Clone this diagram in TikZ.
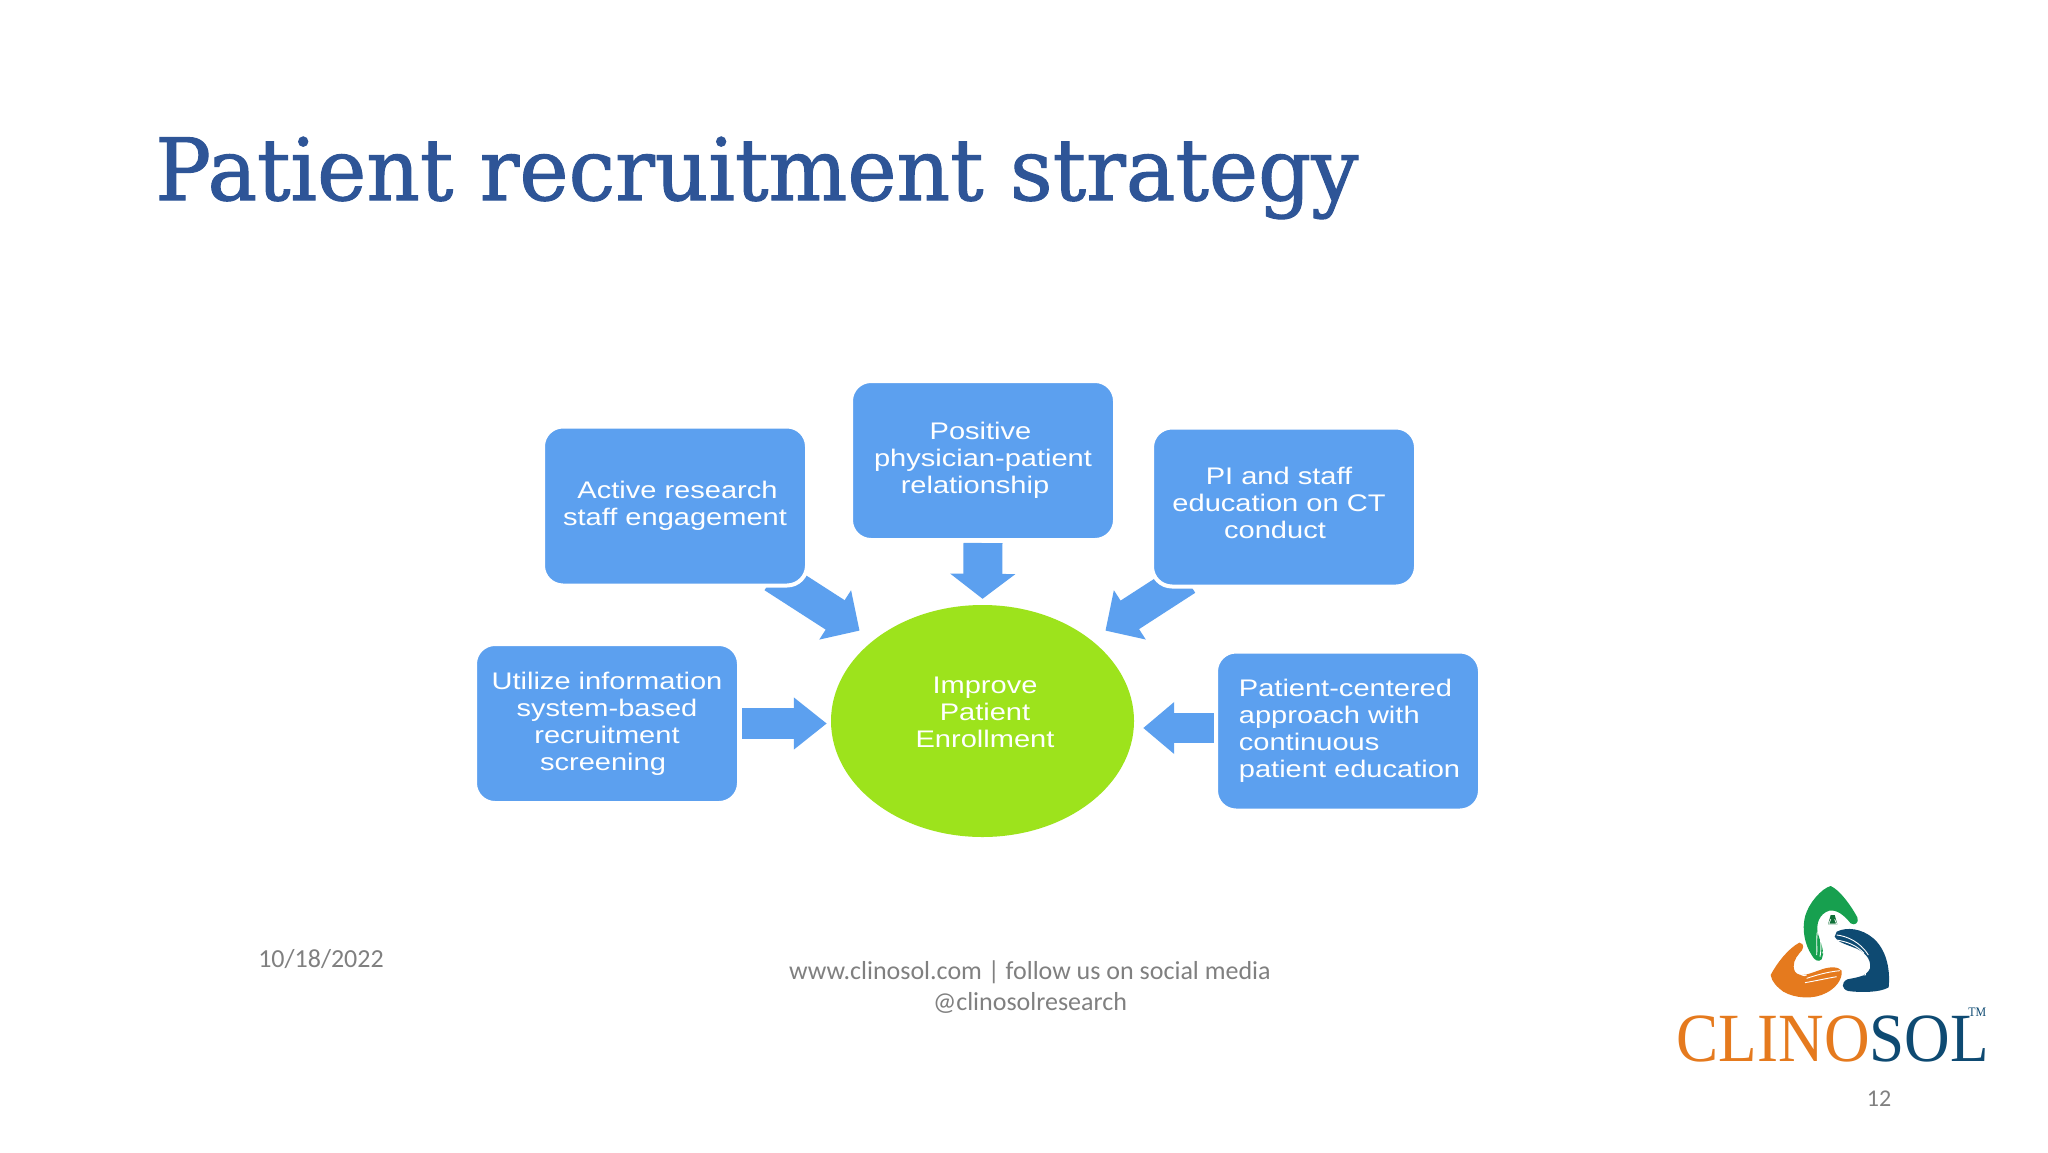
\documentclass[tikz,border=0pt]{standalone}
\usepackage{fontspec}
\usetikzlibrary{arrows.meta,shapes.geometric,calc}
\setmainfont{Liberation Sans}
\newfontfamily\boxfont[FakeStretch=1.21]{Liberation Sans}
\newfontfamily\titlefont[FakeBold=1.2,FakeStretch=0.967]{DejaVu Serif}
\newfontfamily\footfont{Carlito}
\newfontfamily\logofont[FakeStretch=0.915]{Liberation Serif}
\definecolor{boxblue}{HTML}{5CA0EF}
\definecolor{ballgreen}{HTML}{9DE31C}
\definecolor{titleblue}{HTML}{2E5597}
\definecolor{footgray}{HTML}{808080}
\definecolor{logoorange}{HTML}{E57A1E}
\definecolor{logoblue}{HTML}{0E4A72}
\definecolor{logogreen}{HTML}{17A04F}
\pgfdeclarelayer{bg}\pgfdeclarelayer{arr}\pgfsetlayers{bg,arr,main}
\tikzset{
 stepbox/.style={rectangle,rounded corners=20pt,fill=boxblue,draw=white,line width=4pt,
   minimum width=264pt,minimum height=159pt,inner sep=0pt,text=white,align=center,
   font=\boxfont\fontsize{24}{27}\selectfont},
 goalball/.style={ellipse,fill=ballgreen,minimum width=303pt,minimum height=232pt,inner sep=0pt,
   text=white,align=center,font=\boxfont\fontsize{24}{27}\selectfont},
 blockarrow/.style n args={3}{draw=boxblue,fill=boxblue,line width=#1pt,line cap=butt,
   -{Triangle[length=#3pt,width=#2pt]}},
 footer/.style={text=footgray,font=\footfont\fontsize{26}{31}\selectfont,align=center},
}
\begin{document}
\begin{tikzpicture}[x=1pt,y=-1pt]
\useasboundingbox (0,0) rectangle (2048,1152);
\begin{pgfonlayer}{bg}
\fill[white] (0,0) rectangle (2048,1152);
\end{pgfonlayer}
% title
\node[anchor=west,inner sep=0pt,text=titleblue] (title) at (155,178)
  {\titlefont\fontsize{86}{100}\selectfont Patient recruitment strategy};
% diagram
\node[goalball] (enrol) at (982.5,721) {\hspace*{5pt}Improve\\\hspace*{5pt}Patient\\\hspace*{5pt}Enrollment\\[-10pt]\mbox{}};
\node[stepbox] (act) at (675,506) {\hspace*{5pt}Active research\\staff engagement};
\node[stepbox] (pos) at (983,460.5) {\hspace*{-5pt}Positive\\physician-patient\\\hspace*{-16pt}relationship};
\node[stepbox] (pi) at (1284,507) {\hspace*{-10pt}PI and staff\\\hspace*{-10pt}education on CT\\\hspace*{-18pt}conduct\\[-19pt]\mbox{}};
\node[stepbox] (uti) at (607,723.5) {Utilize information\\system-based\\recruitment\\\hspace*{-8pt}screening};
\node[stepbox,align=left] (pat) at (1348,731) {\hspace*{3pt}Patient-centered\\\hspace*{3pt}approach with\\\hspace*{3pt}continuous\\\hspace*{3pt}patient education};
\begin{pgfonlayer}{arr}
\draw[blockarrow={35}{57}{29}] ($(act.south east)+(-35,-12)$) -- ($(enrol.145)+(-11,-12)$);
\draw[blockarrow={39}{64}{25},shorten <=1pt,shorten >=6pt] (pos.south) -- (enrol.north);
\draw[blockarrow={34}{57}{29}] ($(pi.south west)+(36,-10)$) -- ($(enrol.35)+(11,-12)$);
\draw[blockarrow={31}{50}{33},shorten <=1pt,shorten >=4pt] (uti.east) -- (enrol.west |- uti.east);
\draw[blockarrow={30}{50}{31},shorten <=0pt,shorten >=9pt] ([yshift=3pt]pat.west) -- ([yshift=3pt]enrol.east |- pat.west);
\end{pgfonlayer}
% footer
\node[footer] (date) at (321,959) {10/18/2022};
\node[footer] (site) at (1030,987) {www.clinosol.com | follow us on social media\\@clinosolresearch};
\node[text=footgray,font=\footfont\fontsize{24}{28}\selectfont] (page) at (1879,1099) {12};
% logo
\begin{scope}[shift={(1640,860)},x=0.33333pt,y=-0.33333pt]
\fill[logogreen] (572,78) .. controls (600,90) and (635,140) .. (652,172)
  .. controls (658,188) and (645,198) .. (632,190)
  .. controls (612,165) and (590,148) .. (568,152)
  .. controls (540,160) and (525,190) .. (535,225)
  .. controls (545,255) and (555,280) .. (545,298)
  .. controls (535,308) and (522,300) .. (515,285)
  .. controls (495,255) and (485,210) .. (495,170)
  .. controls (505,130) and (545,85) .. (572,78) -- cycle;
\draw[white,line width=0.9pt] (540,185) .. controls (535,220) and (548,250) .. (540,290);
\draw[white,line width=0.9pt] (550,195) .. controls (552,225) and (560,250) .. (548,280);
\draw[white,line width=0.9pt] (532,215) .. controls (528,245) and (532,265) .. (530,285);
\fill[logogreen!70!black] (572,165) -- (584,165) -- (592,193) -- (564,193) -- cycle;
\draw[white,line width=0.7pt] (572,178) -- (566,192) -- (590,192) -- (584,178);
\fill[logoblue] (590,215) .. controls (620,200) and (665,205) .. (700,235)
  .. controls (735,265) and (752,320) .. (746,382)
  .. controls (720,398) and (660,398) .. (625,393)
  .. controls (605,388) and (602,368) .. (622,358)
  .. controls (650,352) and (680,350) .. (690,325)
  .. controls (695,295) and (670,272) .. (640,262)
  .. controls (615,252) and (590,245) .. (584,230) -- cycle;
\draw[white,line width=0.9pt] (590,225) .. controls (620,228) and (660,245) .. (685,285);
\draw[white,line width=0.9pt] (590,240) .. controls (620,245) and (650,255) .. (672,280);
\draw[white,line width=0.8pt] (638,312) -- (680,312) -- (676,345) -- (636,345) -- cycle;
\fill[logoorange] (478,248) .. controls (495,250) and (492,268) .. (478,280)
  .. controls (465,295) and (455,315) .. (465,335)
  .. controls (480,355) and (510,340) .. (540,330)
  .. controls (565,320) and (595,318) .. (605,332)
  .. controls (608,360) and (585,385) .. (560,398)
  .. controls (520,420) and (465,415) .. (430,395)
  .. controls (410,380) and (395,365) .. (392,345)
  .. controls (410,310) and (445,265) .. (478,248) -- cycle;
\draw[white,line width=0.9pt] (500,355) .. controls (530,345) and (565,335) .. (600,332);
\draw[white,line width=0.9pt] (495,368) .. controls (530,362) and (560,355) .. (590,350);
\draw[white,line width=0.9pt] (490,318) circle (14);
\draw[white,line width=0.9pt] (480,330) .. controls (478,345) and (490,350) .. (500,345);
\node[anchor=base west,inner sep=0pt,font=\logofont\fontsize{69}{69}\selectfont] (logotext) at (110,605)
  {\textcolor{logoorange}{CLINO}\textcolor{logoblue}{SOL}};
\node[inner sep=0pt,text=logoblue,font=\logofont\fontsize{13}{13}\selectfont] (tm) at (1012,458) {TM};
\end{scope}
\end{tikzpicture}
\end{document}
